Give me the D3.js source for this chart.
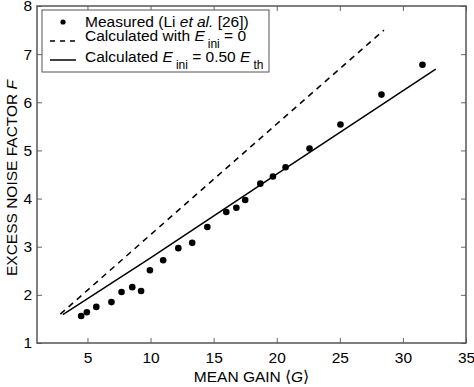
<!DOCTYPE html>
<html>
<head>
	<title></title>
	<script src="https://d3js.org/d3.v7.min.js" charset="utf-8"></script>
	<style type="text/css">
		body { margin: 0; background: #fff; }
		svg text {
			font-family: 'Liberation Sans', Arial, sans-serif;
			fill: #000;
		}
	</style>
</head>
<body>
	<script type="text/javascript">
		// measured points (Li et al.)
		var gainMeasured = [4.5, 4.95, 5.7, 6.9, 7.7, 8.55, 9.25, 9.95, 11.0, 12.2, 13.3, 14.5, 16.0, 16.8, 17.5, 18.7, 19.7, 20.7, 22.6, 25.05, 28.3, 31.55];
		var fMeasured    = [1.56, 1.64, 1.75, 1.85, 2.06, 2.16, 2.08, 2.51, 2.72, 2.97, 3.08, 3.41, 3.72, 3.81, 3.97, 4.31, 4.46, 4.65, 5.04, 5.54, 6.16, 6.78];

		// calculated, E_ini = 0 (dashed)
		var gainCalc0 = [2.85, 10, 20, 28.5];
		var fCalc0    = [1.60, 3.25, 5.55, 7.50];

		// calculated, E_ini = 0.50 E_th (solid)
		var gainCalc50 = [3.05, 10, 20, 32.6];
		var fCalc50    = [1.59, 2.77, 4.51, 6.69];

		var xTicks = [5, 10, 15, 20, 25, 30, 35];
		var yTicks = [1, 2, 3, 4, 5, 6, 7, 8];

		var W = 474, H = 387;
		var mLeft = 37, mRight = 466, mTop = 6, mBottom = 343;

		var svg = d3.select('body').append('svg')
			.attr('width', W)
			.attr('height', H);

		var x = d3.scaleLinear().domain([1, 35]).range([mLeft, mRight]);
		var y = d3.scaleLinear().domain([1, 8]).range([mBottom, mTop]);

		// axes, ticks pointing inwards on all four sides
		svg.append('g')
			.attr('transform', 'translate(0,' + mBottom + ')')
			.call(d3.axisBottom(x).tickValues(xTicks).tickSize(-5).tickPadding(9).tickFormat(d3.format('d')))
			.call(function(g){ g.select('.domain').remove(); });
		svg.append('g')
			.attr('transform', 'translate(0,' + mTop + ')')
			.call(d3.axisTop(x).tickValues(xTicks).tickSize(-5).tickFormat(''))
			.call(function(g){ g.select('.domain').remove(); });
		svg.append('g')
			.attr('transform', 'translate(' + mLeft + ',0)')
			.call(d3.axisLeft(y).tickValues(yTicks).tickSize(-5).tickPadding(5).tickFormat(d3.format('d')))
			.call(function(g){ g.select('.domain').remove(); });
		svg.append('g')
			.attr('transform', 'translate(' + mRight + ',0)')
			.call(d3.axisRight(y).tickValues(yTicks).tickSize(-5).tickFormat(''))
			.call(function(g){ g.select('.domain').remove(); });

		svg.selectAll('.tick line').attr('stroke', '#666');
		svg.selectAll('.tick text')
			.style('font-size', '15.5px')
			.style('font-family', "'Liberation Sans', Arial, sans-serif");

		svg.append('rect')
			.attr('x', mLeft).attr('y', mTop)
			.attr('width', mRight - mLeft).attr('height', mBottom - mTop)
			.attr('fill', 'none').attr('stroke', '#555').attr('stroke-width', 1.5);

		var line = d3.line()
			.x(function(d){ return x(d[0]); })
			.y(function(d){ return y(d[1]); });

		svg.append('path')
			.datum(d3.zip(gainCalc0, fCalc0))
			.attr('d', line)
			.attr('fill', 'none')
			.attr('stroke', '#000')
			.attr('stroke-width', 1.5)
			.attr('stroke-dasharray', '6,5');

		svg.append('path')
			.datum(d3.zip(gainCalc50, fCalc50))
			.attr('d', line)
			.attr('fill', 'none')
			.attr('stroke', '#000')
			.attr('stroke-width', 1.5);

		svg.selectAll('circle.pt')
			.data(d3.zip(gainMeasured, fMeasured))
			.enter()
			.append('circle')
			.attr('class', 'pt')
			.attr('cx', function(d){ return x(d[0]); })
			.attr('cy', function(d){ return y(d[1]); })
			.attr('r', 3.3)
			.attr('fill', '#000');

		// legend
		var lg = svg.append('g');
		lg.append('rect')
			.attr('x', 42).attr('y', 10)
			.attr('width', 227).attr('height', 62)
			.attr('fill', '#fff').attr('stroke', '#555').attr('stroke-width', 1);
		lg.append('circle').attr('cx', 63).attr('cy', 22).attr('r', 2.6).attr('fill', '#000');
		lg.append('line').attr('x1', 50).attr('x2', 76).attr('y1', 41).attr('y2', 41)
			.attr('stroke', '#000').attr('stroke-width', 1.5).attr('stroke-dasharray', '5,5');
		lg.append('line').attr('x1', 50).attr('x2', 76).attr('y1', 60).attr('y2', 60)
			.attr('stroke', '#000').attr('stroke-width', 1.5);

		var t1 = lg.append('text').attr('x', 85).attr('y', 27).style('font-size', '15.5px');
		t1.append('tspan').text('Measured (Li ');
		t1.append('tspan').style('font-style', 'italic').text('et al.');
		t1.append('tspan').text(' [26])');

		var t2 = lg.append('text').attr('x', 85).attr('y', 41).style('font-size', '15.5px');
		t2.append('tspan').text('Calculated with ');
		t2.append('tspan').style('font-style', 'italic').text('E');
		t2.append('tspan').attr('dx', 3).attr('dy', 7).style('font-size', '12px').text('ini');
		t2.append('tspan').attr('dy', -7).text(' = 0');

		var t3 = lg.append('text').attr('x', 85).attr('y', 62).style('font-size', '15.5px');
		t3.append('tspan').text('Calculated ');
		t3.append('tspan').style('font-style', 'italic').text('E');
		t3.append('tspan').attr('dx', 3).attr('dy', 7).style('font-size', '12px').text('ini');
		t3.append('tspan').attr('dy', -7).text(' = 0.50 ');
		t3.append('tspan').style('font-style', 'italic').text('E');
		t3.append('tspan').attr('dx', 3).attr('dy', 7).style('font-size', '12px').text('th');

		// axis titles
		var xl = svg.append('text')
			.attr('x', (mLeft + mRight) / 2)
			.attr('y', 382)
			.attr('text-anchor', 'middle')
			.style('font-size', '15.5px');
		xl.append('tspan').text('MEAN GAIN \u27E8');
		xl.append('tspan').style('font-style', 'italic').text('G');
		xl.append('tspan').text('\u27E9');

		var yl = svg.append('text')
			.attr('transform', 'translate(17,178) rotate(-90)')
			.attr('text-anchor', 'middle')
			.style('font-size', '15.5px');
		yl.append('tspan').text('EXCESS NOISE FACTOR ');
		yl.append('tspan').style('font-style', 'italic').text('F');
	</script>
</body>
</html>
